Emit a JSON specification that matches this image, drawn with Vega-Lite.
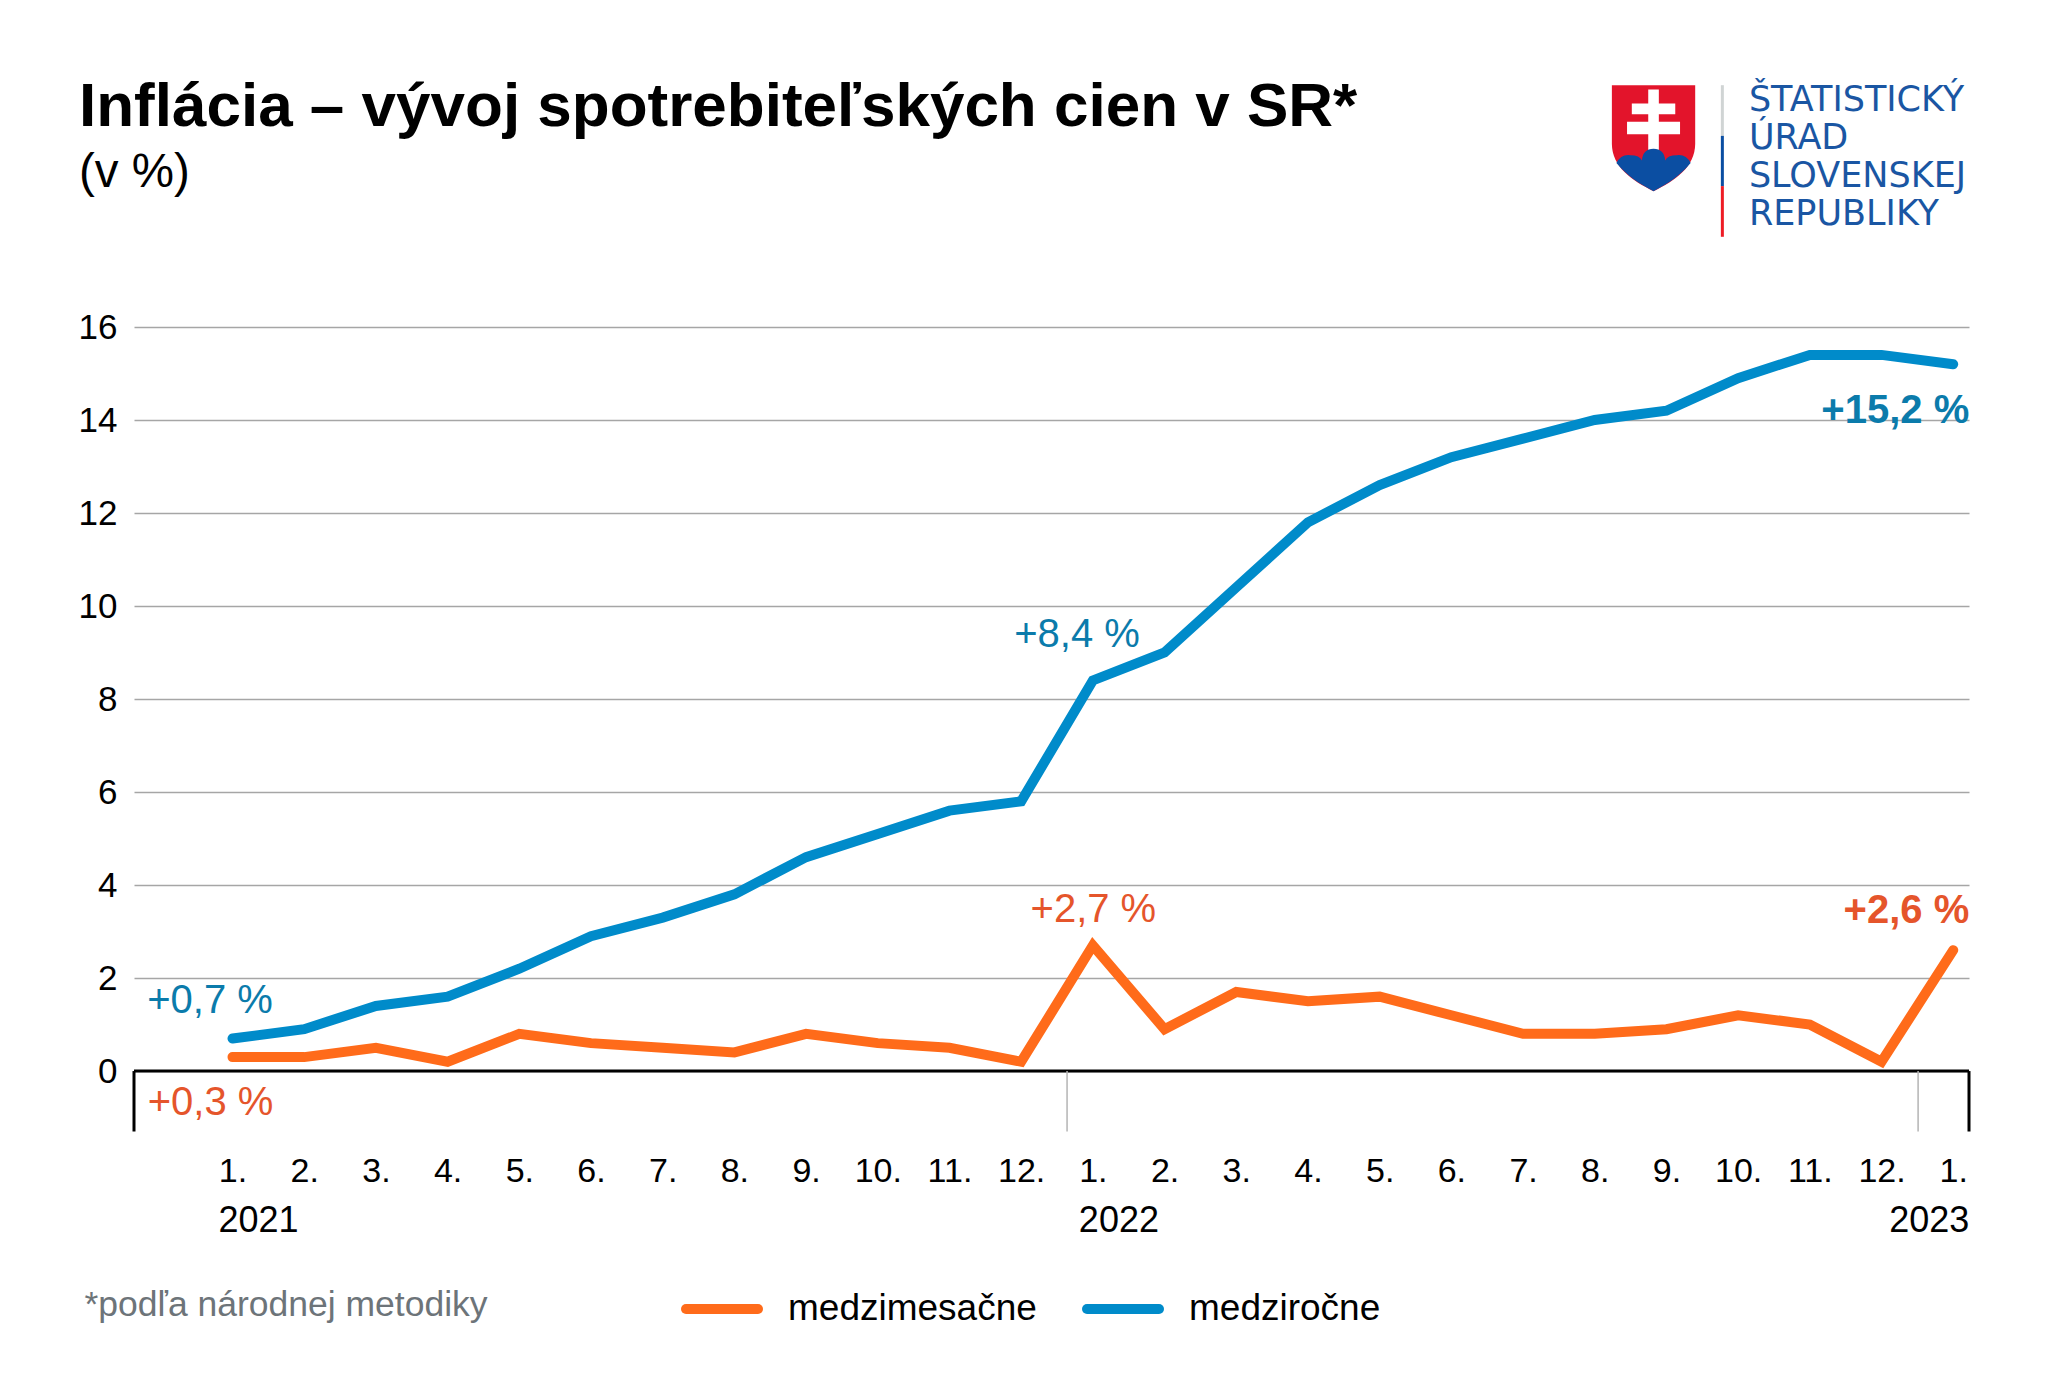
{
  "$schema": "https://vega.github.io/schema/vega-lite/v6.json",
  "autosize": {"type": "none"},
  "width": 1835,
  "height": 804.5,
  "padding": {"left": 134, "top": 327, "right": 79, "bottom": 264.5},
  "background": "#ffffff",
  "data": {"values": [{}]},
  "title": {
    "text": "Inflácia – vývoj spotrebiteľských cien v SR*",
    "subtitle": "(v %)",
    "anchor": "start",
    "frame": "group",
    "dx": -55,
    "offset": -114,
    "font": "Liberation Sans",
    "fontSize": 62,
    "fontWeight": "bold",
    "color": "#000000",
    "subtitleFont": "Liberation Sans",
    "subtitleFontSize": 47.5,
    "subtitleColor": "#000000",
    "subtitlePadding": 10
  },
  "config": {
    "view": {"stroke": null},
    "font": "Liberation Sans",
    "text": {"font": "Liberation Sans"}
  },
  "datasets": {
    "inflacia": [
      {"index": 0, "series": "medziročne", "value": 0.7},
      {"index": 1, "series": "medziročne", "value": 0.9},
      {"index": 2, "series": "medziročne", "value": 1.4},
      {"index": 3, "series": "medziročne", "value": 1.6},
      {"index": 4, "series": "medziročne", "value": 2.2},
      {"index": 5, "series": "medziročne", "value": 2.9},
      {"index": 6, "series": "medziročne", "value": 3.3},
      {"index": 7, "series": "medziročne", "value": 3.8},
      {"index": 8, "series": "medziročne", "value": 4.6},
      {"index": 9, "series": "medziročne", "value": 5.1},
      {"index": 10, "series": "medziročne", "value": 5.6},
      {"index": 11, "series": "medziročne", "value": 5.8},
      {"index": 12, "series": "medziročne", "value": 8.4},
      {"index": 13, "series": "medziročne", "value": 9.0},
      {"index": 14, "series": "medziročne", "value": 10.4},
      {"index": 15, "series": "medziročne", "value": 11.8},
      {"index": 16, "series": "medziročne", "value": 12.6},
      {"index": 17, "series": "medziročne", "value": 13.2},
      {"index": 18, "series": "medziročne", "value": 13.6},
      {"index": 19, "series": "medziročne", "value": 14.0},
      {"index": 20, "series": "medziročne", "value": 14.2},
      {"index": 21, "series": "medziročne", "value": 14.9},
      {"index": 22, "series": "medziročne", "value": 15.4},
      {"index": 23, "series": "medziročne", "value": 15.4},
      {"index": 24, "series": "medziročne", "value": 15.2},
      {"index": 0, "series": "medzimesačne", "value": 0.3},
      {"index": 1, "series": "medzimesačne", "value": 0.3},
      {"index": 2, "series": "medzimesačne", "value": 0.5},
      {"index": 3, "series": "medzimesačne", "value": 0.2},
      {"index": 4, "series": "medzimesačne", "value": 0.8},
      {"index": 5, "series": "medzimesačne", "value": 0.6},
      {"index": 6, "series": "medzimesačne", "value": 0.5},
      {"index": 7, "series": "medzimesačne", "value": 0.4},
      {"index": 8, "series": "medzimesačne", "value": 0.8},
      {"index": 9, "series": "medzimesačne", "value": 0.6},
      {"index": 10, "series": "medzimesačne", "value": 0.5},
      {"index": 11, "series": "medzimesačne", "value": 0.2},
      {"index": 12, "series": "medzimesačne", "value": 2.7},
      {"index": 13, "series": "medzimesačne", "value": 0.9},
      {"index": 14, "series": "medzimesačne", "value": 1.7},
      {"index": 15, "series": "medzimesačne", "value": 1.5},
      {"index": 16, "series": "medzimesačne", "value": 1.6},
      {"index": 17, "series": "medzimesačne", "value": 1.2},
      {"index": 18, "series": "medzimesačne", "value": 0.8},
      {"index": 19, "series": "medzimesačne", "value": 0.8},
      {"index": 20, "series": "medzimesačne", "value": 0.9},
      {"index": 21, "series": "medzimesačne", "value": 1.2},
      {"index": 22, "series": "medzimesačne", "value": 1.0},
      {"index": 23, "series": "medzimesačne", "value": 0.2},
      {"index": 24, "series": "medzimesačne", "value": 2.6}
    ]
  },
  "layer": [
    {
      "data": {"name": "inflacia"},
      "mark": {"type": "line", "strokeWidth": 10, "opacity": 0},
      "encoding": {
        "x": {
          "field": "index",
          "type": "quantitative",
          "scale": {"domain": [-1.374, 24.22], "nice": false, "zero": false},
          "axis": {
            "values": [0,1,2,3,4,5,6,7,8,9,10,11,12,13,14,15,16,17,18,19,20,21,22,23,24],
            "labelExpr": "(datum.value % 12 + 1) + '.'",
            "grid": false,
            "domain": false,
            "ticks": false,
            "tickSize": 0,
            "labelFont": "Liberation Sans",
            "labelFontSize": 34,
            "labelColor": "#000000",
            "labelBaseline": "alphabetic",
            "labelPadding": 49.5,
            "labelFlush": false,
            "labelOverlap": false,
            "title": "*podľa národnej metodiky",
            "titleX": -50,
            "titleY": 183.5,
            "titleAlign": "left",
            "titleAnchor": "start",
            "titleBaseline": "alphabetic",
            "titleFont": "Liberation Sans",
            "titleFontSize": 35.5,
            "titleFontWeight": "normal",
            "titleColor": "#6d7479"
          }
        },
        "y": {
          "field": "value",
          "type": "quantitative",
          "scale": {"domain": [-1.3, 16], "nice": false, "zero": false},
          "axis": {
            "values": [0,2,4,6,8,10,12,14,16],
            "title": null,
            "grid": true,
            "domain": false,
            "ticks": false,
            "labelFont": "Liberation Sans",
            "labelFontSize": 35,
            "labelColor": "#000000",
            "labelPadding": 17,
            "gridColor": "#a6a6a6",
            "gridWidth": 1.5
          }
        }
      }
    },
    {
      "mark": {"type": "rule", "color": "#000000", "strokeWidth": 3},
      "encoding": {"y": {"datum": 0}}
    },
    {
      "mark": {"type": "rule", "color": "#000000", "strokeWidth": 3},
      "encoding": {"x": {"datum": -1.374}, "y": {"datum": 0}, "y2": {"datum": -1.3}}
    },
    {
      "mark": {"type": "rule", "color": "#000000", "strokeWidth": 3},
      "encoding": {"x": {"datum": 24.22}, "y": {"datum": 0}, "y2": {"datum": -1.3}}
    },
    {
      "mark": {"type": "rule", "color": "#b4b4b4", "strokeWidth": 1.5},
      "encoding": {"x": {"datum": 11.64}, "y": {"datum": 0}, "y2": {"datum": -1.3}}
    },
    {
      "mark": {"type": "rule", "color": "#b4b4b4", "strokeWidth": 1.5},
      "encoding": {"x": {"datum": 23.51}, "y": {"datum": 0}, "y2": {"datum": -1.3}}
    },
    {
      "data": {"name": "inflacia"},
      "mark": {"type": "line", "strokeWidth": 10, "strokeCap": "round", "strokeJoin": "miter"},
      "encoding": {
        "x": {"field": "index", "type": "quantitative"},
        "y": {"field": "value", "type": "quantitative"},
        "color": {
          "field": "series",
          "type": "nominal",
          "scale": {"domain": ["medzimesačne", "medziročne"], "range": ["#ff6b1a", "#008bca"]},
          "legend": {
            "orient": "none",
            "legendX": 547,
            "legendY": 941,
            "direction": "horizontal",
            "title": null,
            "padding": 0,
            "symbolType": "stroke",
            "symbolSize": 5184,
            "symbolStrokeWidth": 10,
            "labelFont": "Liberation Sans",
            "labelFontSize": 37,
            "labelColor": "#000000",
            "labelOffset": 25,
            "labelBaseline": "middle",
            "labelLimit": 0,
            "columnPadding": 30,
            "encode": {"symbols": {"update": {"strokeCap": {"value": "round"}}}}
          }
        }
      }
    },
    {
      "data": {"values": [{"index": 0, "value": 0.7, "label": "+0,7 %"}]},
      "mark": {"type": "text", "align": "center", "baseline": "alphabetic", "dx": -22.5, "dy": -25.5, "fontSize": 40, "color": "#0b7bab"},
      "encoding": {"x": {"field": "index", "type": "quantitative"}, "y": {"field": "value", "type": "quantitative"}, "text": {"field": "label"}}
    },
    {
      "data": {"values": [{"index": 0, "value": 0.3, "label": "+0,3 %"}]},
      "mark": {"type": "text", "align": "center", "baseline": "alphabetic", "dx": -22, "dy": 58, "fontSize": 40, "color": "#e5552b"},
      "encoding": {"x": {"field": "index", "type": "quantitative"}, "y": {"field": "value", "type": "quantitative"}, "text": {"field": "label"}}
    },
    {
      "data": {"values": [{"index": 12, "value": 8.4, "label": "+8,4 %"}]},
      "mark": {"type": "text", "align": "center", "baseline": "alphabetic", "dx": -15.8, "dy": -33.7, "fontSize": 40, "color": "#0b7bab"},
      "encoding": {"x": {"field": "index", "type": "quantitative"}, "y": {"field": "value", "type": "quantitative"}, "text": {"field": "label"}}
    },
    {
      "data": {"values": [{"index": 12, "value": 2.7, "label": "+2,7 %"}]},
      "mark": {"type": "text", "align": "center", "baseline": "alphabetic", "dx": 0.5, "dy": -23.5, "fontSize": 40, "color": "#e5552b"},
      "encoding": {"x": {"field": "index", "type": "quantitative"}, "y": {"field": "value", "type": "quantitative"}, "text": {"field": "label"}}
    },
    {
      "data": {"values": [{"index": 24, "value": 15.2, "label": "+15,2 %"}]},
      "mark": {"type": "text", "align": "right", "baseline": "alphabetic", "dx": 16, "dy": 59, "fontSize": 40, "fontWeight": "bold", "color": "#0b7bab"},
      "encoding": {"x": {"field": "index", "type": "quantitative"}, "y": {"field": "value", "type": "quantitative"}, "text": {"field": "label"}}
    },
    {
      "data": {"values": [{"index": 24, "value": 2.6, "label": "+2,6 %"}]},
      "mark": {"type": "text", "align": "right", "baseline": "alphabetic", "dx": 16, "dy": -27, "fontSize": 40, "fontWeight": "bold", "color": "#e5552b"},
      "encoding": {"x": {"field": "index", "type": "quantitative"}, "y": {"field": "value", "type": "quantitative"}, "text": {"field": "label"}}
    },
    {
      "data": {"values": [{"index": 0, "year": "2021"}, {"index": 12, "year": "2022"}]},
      "mark": {"type": "text", "align": "left", "baseline": "alphabetic", "dx": -14, "fontSize": 36, "color": "#000000"},
      "encoding": {"x": {"field": "index", "type": "quantitative"}, "y": {"datum": -3.462}, "text": {"field": "year"}}
    },
    {
      "data": {"values": [{"index": 24, "year": "2023"}]},
      "mark": {"type": "text", "align": "right", "baseline": "alphabetic", "dx": 16, "fontSize": 36, "color": "#000000"},
      "encoding": {"x": {"field": "index", "type": "quantitative"}, "y": {"datum": -3.462}, "text": {"field": "year"}}
    },
    {
      "mark": {"type": "point", "shape": "M-0.786,-1 L0.786,-1 L0.786,0.1 C0.786,0.55 0.4,0.8 0,1 C-0.4,0.8 -0.786,0.55 -0.786,0.1 Z", "filled": true, "fill": "#e3142b", "opacity": 1, "strokeWidth": 0, "size": 11236},
      "encoding": {"x": {"datum": 19.82}, "y": {"datum": 20.06}}
    },
    {
      "mark": {"type": "point", "shape": "M-0.1,-0.92 L0.1,-0.92 L0.1,-0.655 L0.41,-0.655 L0.41,-0.45 L0.1,-0.45 L0.1,-0.31 L0.5,-0.31 L0.5,-0.075 L0.1,-0.075 L0.1,0.3 L-0.1,0.3 L-0.1,-0.075 L-0.5,-0.075 L-0.5,-0.31 L-0.1,-0.31 L-0.1,-0.45 L-0.41,-0.45 L-0.41,-0.655 L-0.1,-0.655 Z", "filled": true, "fill": "#ffffff", "opacity": 1, "strokeWidth": 0, "size": 11236},
      "encoding": {"x": {"datum": 19.82}, "y": {"datum": 20.06}}
    },
    {
      "mark": {"type": "point", "shape": "M-0.7,0.47 Q-0.62,0.3 -0.44,0.32 Q-0.26,0.32 -0.22,0.42 Q-0.2,0.2 0,0.2 Q0.2,0.2 0.22,0.42 Q0.26,0.32 0.44,0.32 Q0.62,0.3 0.7,0.47 C0.5,0.7 0.3,0.85 0,1 C-0.3,0.85 -0.5,0.7 -0.7,0.47 Z", "filled": true, "fill": "#0b4ea2", "opacity": 1, "strokeWidth": 0, "size": 11236},
      "encoding": {"x": {"datum": 19.82}, "y": {"datum": 20.06}}
    },
    {
      "mark": {"type": "rule", "color": "#d0d4d4", "strokeWidth": 3},
      "encoding": {"x": {"datum": 20.78}, "y": {"datum": 21.2}, "y2": {"datum": 20.11}}
    },
    {
      "mark": {"type": "rule", "color": "#0b4ea2", "strokeWidth": 3},
      "encoding": {"x": {"datum": 20.78}, "y": {"datum": 20.11}, "y2": {"datum": 19.03}}
    },
    {
      "mark": {"type": "rule", "color": "#ee1c25", "strokeWidth": 3},
      "encoding": {"x": {"datum": 20.78}, "y": {"datum": 19.03}, "y2": {"datum": 17.94}}
    },
    {
      "mark": {"type": "text", "align": "left", "baseline": "alphabetic", "font": "DejaVu Sans", "fontSize": 35, "lineHeight": 38, "color": "#1a56a3"},
      "encoding": {"x": {"datum": 21.15}, "y": {"datum": 20.64}, "text": {"value": ["ŠTATISTICKÝ", "ÚRAD", "SLOVENSKEJ", "REPUBLIKY"]}}
    }
  ]
}
